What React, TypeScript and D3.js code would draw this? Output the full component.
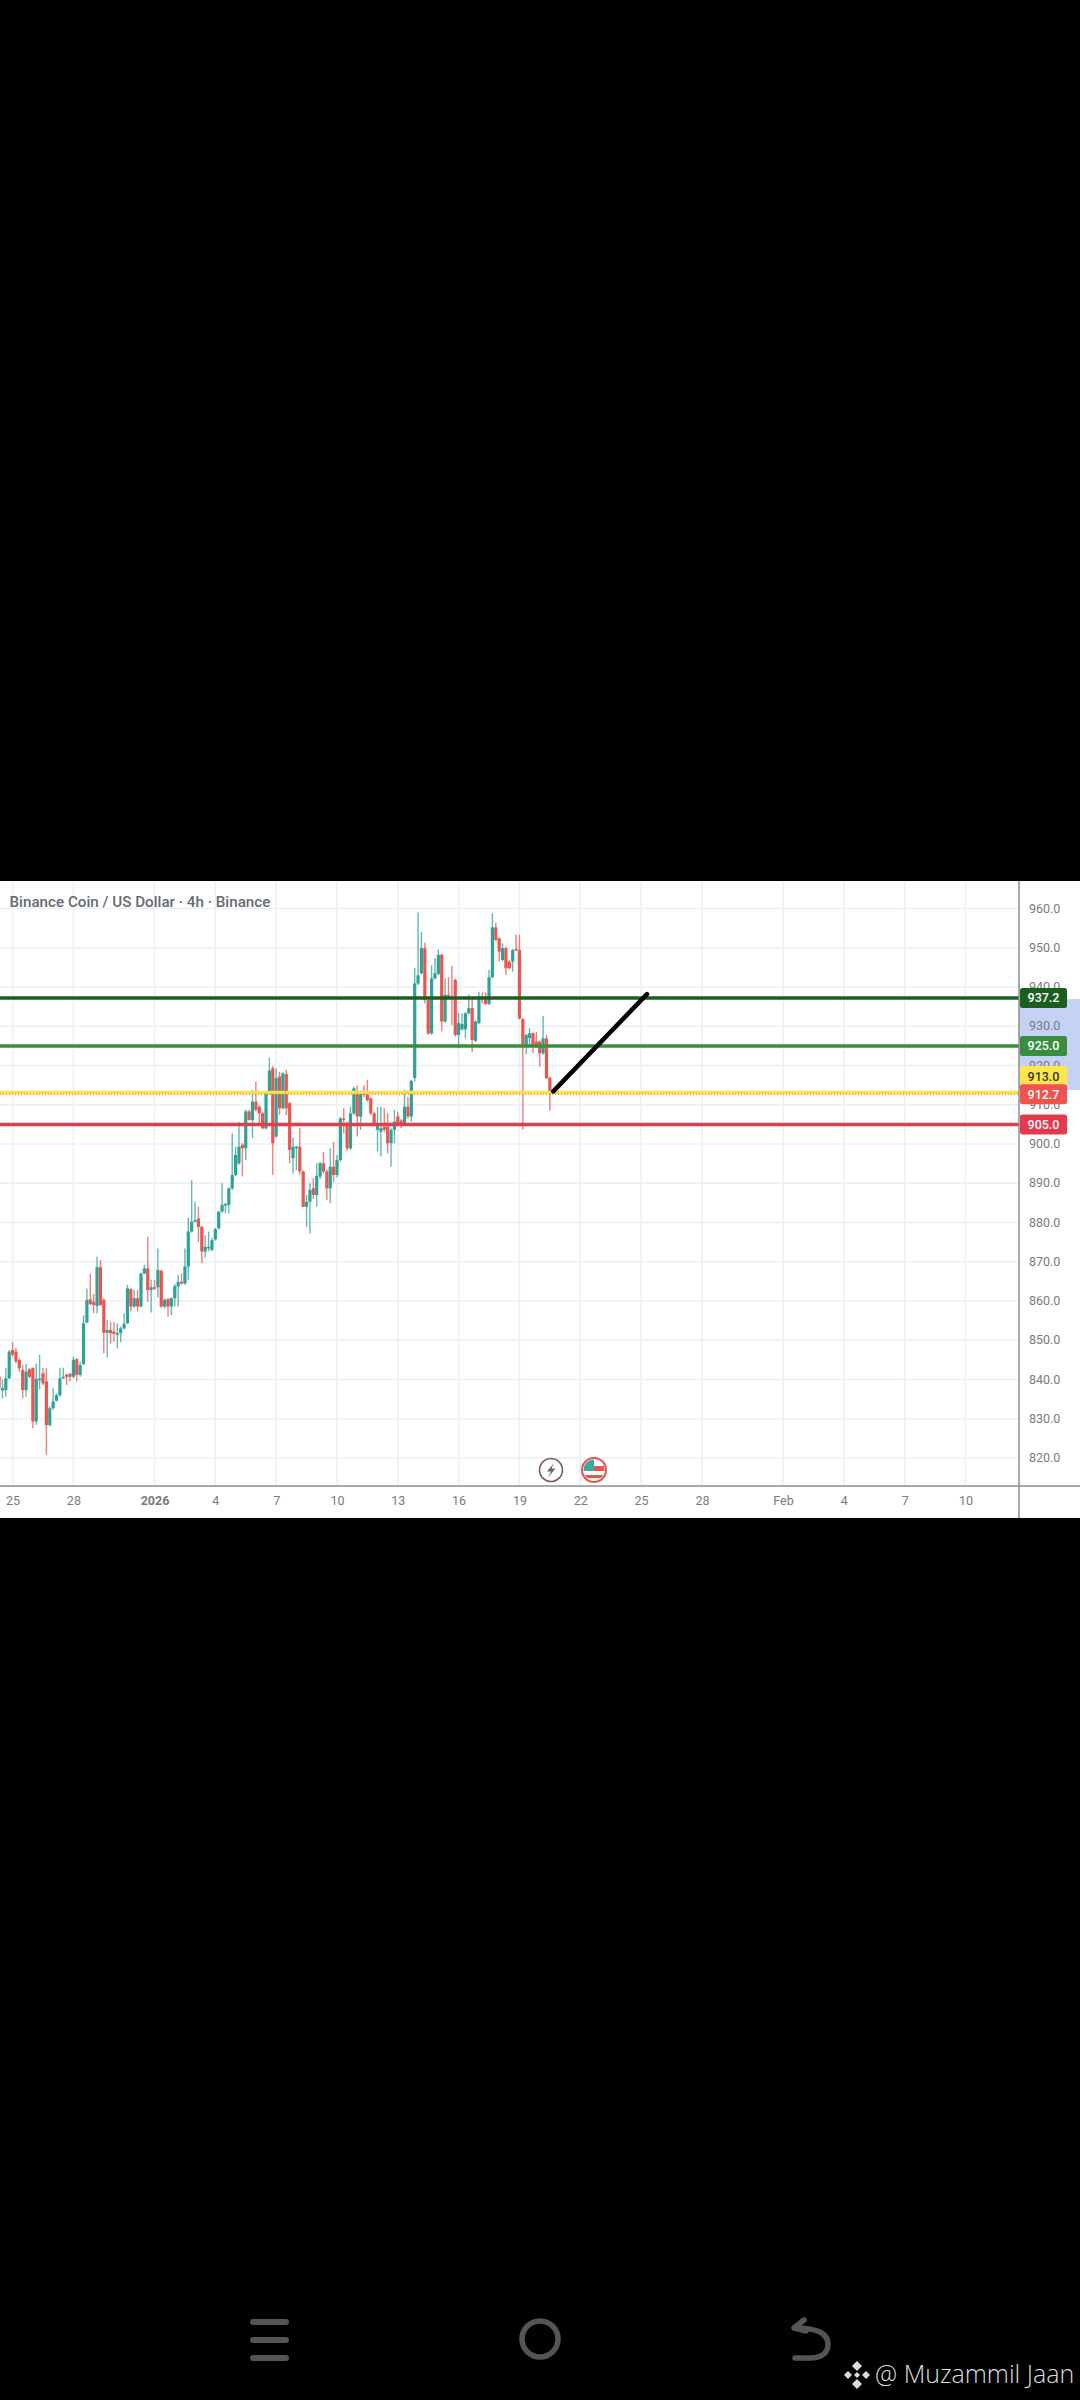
import { useEffect, useRef } from "react";
import * as d3 from "d3";

const title = "Binance Coin / US Dollar · 4h · Binance";

// 4h candles, first one at this time
const firstCandle = Date.UTC(2025, 11, 24, 8);
const fourHours = 4 * 3600 * 1000;

const opens = [
  840.7, 837.2, 837.3, 840.3,
  847.5, 847.1, 845, 842.4, 837.3, 842.6, 842.9, 829.3, 839.9, 841.6,
  839.5, 828.4, 832.7, 834.6, 836, 840.3, 841.2, 841.4, 840.7, 845.2,
  841.2, 843.9, 854.5, 860.4, 859.8, 858.7, 868.6, 860.3, 851.9, 852.6,
  852.2, 851.6, 851.8, 853, 854.3, 863, 858.6, 860.7, 858.6, 867,
  868.3, 862.8, 863.5, 863.5, 867.7, 858.6, 860.5, 858.6, 860.7, 863.7,
  864.9, 864.5, 868.8, 877.7, 880.2, 881, 878.9, 872.6, 873.4, 873,
  875.7, 878.5, 882.8, 884.5, 884.5, 888.7, 892.1, 895.1, 899.8, 898.9,
  908.3, 906.1, 910.8, 909.5, 907.8, 904, 912.9, 919.3, 901.9, 917.2,
  909.1, 917.8, 910.4, 896.4, 899.3, 899.3, 893, 884, 885.3, 888.7,
  887, 891.7, 895.1, 893, 888.7, 894.2, 892.1, 895.9, 906.5, 905.3,
  898.9, 907.8, 913.3, 907, 912.9, 912.5, 911.6, 907.8, 903.6, 903.1,
  904.4, 904.4, 900.2, 903.6, 907, 906, 905.3, 909.5, 907, 916.8,
  940.9, 943.5, 949.9, 936.7, 928.2, 942.2, 943.3, 948.2, 931.2, 938,
  937.5, 941.8, 927.8, 929.2, 929.2, 933.3, 934.6, 926.3, 930.8, 937.5,
  937.1, 935.7, 942.5, 955.2, 952.4, 946.9, 949.9, 946.5, 946.5, 949.7,
  949.4, 931.8, 925.2, 927, 928.2, 926.1, 926.1, 923.1, 926.9, 916.9,
];
const highs = [
  840.9, 839.9, 842.9, 847.5,
  849.6, 848, 845.4, 843.7, 844, 842.9, 843.1, 844.1, 846.3, 842.9,
  842.9, 833.1, 837.8, 836.5, 843, 843, 841.6, 841.8, 845.8, 845.4,
  844.6, 856.4, 863.2, 866.9, 861.8, 871.3, 870.5, 860.7, 855.2, 854.7,
  854.7, 854.3, 853.5, 856.9, 864.1, 863.2, 862.8, 862.8, 867.2, 869.2,
  876.4, 865.4, 865.4, 873.4, 868, 860.7, 860.7, 860.9, 864.3, 866.6,
  867, 873.4, 881.3, 890.8, 885.3, 884, 879.2, 876.8, 877.7, 876,
  878.6, 878.8, 890, 885, 889, 902.7, 899.3, 905.7, 900.2, 908.7,
  908.7, 913.8, 915.9, 909.9, 908.2, 913.2, 922, 919.9, 919.3, 918.4,
  918.3, 918.9, 910.7, 901.5, 899.6, 904, 893.3, 887, 890, 891.3,
  895.1, 895.5, 898, 893.5, 898.9, 900.6, 897.2, 906.9, 909.1, 905.7,
  909.5, 914.6, 915, 913.6, 915, 916.3, 912, 908.2, 909.5, 909.5,
  909.1, 907.8, 904, 908.7, 908.2, 906.4, 913.8, 912, 916.4, 944.8,
  959, 954.1, 951.3, 937, 945.6, 947.3, 949.6, 948.5, 942.2, 942.5,
  945.4, 942.1, 933.3, 933.3, 933.6, 938, 937.1, 931.5, 938.8, 938.6,
  938.6, 944.3, 958.8, 956.4, 952.7, 951.1, 950.2, 946.8, 949.7, 953.3,
  953.3, 932.1, 928.1, 929.5, 928.5, 928.6, 926.4, 932.6, 927.8, 917.2,
];
const lows = [
  837.3, 835.2, 835.6, 840.1,
  845.8, 844.1, 842, 835.2, 835.6, 840.3, 827.6, 828.4, 837.5, 838.6,
  820.8, 828, 832.2, 834.4, 835.6, 840.1, 838.6, 839.5, 840.3, 839.5,
  840.7, 843.7, 854.3, 859, 856.9, 856.9, 858.7, 846.7, 845.6, 849.2,
  849.6, 847.9, 849.5, 852.8, 854.2, 857.3, 858.3, 857.3, 858.4, 866.9,
  859.8, 857.1, 862.8, 860.9, 858.3, 858.1, 856, 856.4, 858.6, 858.6,
  864.1, 864.1, 865.4, 877.4, 880, 875.1, 869.6, 871.1, 872.6, 872.7,
  875.4, 878.2, 882.5, 882.3, 882.3, 888.3, 891.8, 894.7, 891.7, 895.9,
  906, 901.5, 908.3, 905.3, 903.7, 903.7, 912.6, 892.1, 901.6, 907.4,
  908.8, 907.4, 895.1, 892.5, 893.4, 892.2, 884, 878.9, 877.2, 886,
  884, 891, 892.5, 885.7, 884.9, 890.4, 891.5, 895.5, 902.7, 898.2,
  898.5, 907.4, 901.9, 903.6, 912, 910.8, 907.4, 904.8, 898.1, 896.8,
  903, 897.6, 894.2, 900.2, 904.8, 904, 905, 906.5, 905.7, 915.9,
  940.5, 943.2, 935.8, 927.8, 927.8, 941.9, 943, 928.7, 930.9, 937.2,
  930.3, 927.4, 924.4, 928.9, 926.9, 933, 923.4, 926, 930.5, 935.8,
  935.4, 935.4, 942.2, 951.7, 946.5, 946.5, 943.1, 944.5, 943.9, 949.1,
  931.7, 903.6, 922.9, 925.2, 923.1, 924.5, 919.7, 922.7, 916.5, 908.5,
];
const closes = [
  837.8, 837.8, 840.3, 847.1,
  846.3, 844.6, 842.9, 837.3, 842, 840.7, 829.3, 840.2, 840.2, 839,
  828.4, 832.7, 834.4, 836, 840.3, 840.7, 840.7, 840.7, 845, 841.2,
  843.7, 854.3, 860.3, 859.2, 859, 868.6, 859, 851.9, 852.6, 851.8,
  851.6, 851.8, 853, 854.2, 863.2, 858.6, 860.7, 858.6, 867, 868.3,
  862.8, 863.5, 863.2, 867.9, 858.6, 860.3, 858.6, 860.7, 863.8, 864.9,
  864.5, 868.8, 877.7, 880.2, 880.6, 878.9, 872.6, 873.8, 873.8, 875.5,
  878.3, 882.8, 884.5, 884.7, 888.7, 892.1, 897.2, 899.3, 898.9, 908.3,
  906.1, 910.8, 908.7, 907.8, 904, 912.9, 918.7, 900.2, 916.8, 909.1,
  918, 909.1, 898.5, 899.3, 899.3, 893, 884, 885.3, 888.3, 887,
  891.9, 895.1, 893, 888.7, 894.2, 892.1, 895.9, 906.5, 906.1, 898.9,
  907.8, 914.2, 907, 913.3, 912.5, 911.2, 907.8, 905.3, 904.8, 904,
  903.6, 900.2, 903.6, 905.7, 905.3, 905, 909.5, 907, 916.1, 940.9,
  943, 949.9, 936.7, 928.2, 942.2, 943.5, 948.2, 931.2, 938, 937.5,
  937.1, 927.8, 930.8, 930.6, 933.3, 934.6, 926.5, 931.2, 937.5, 937.1,
  935.7, 942.5, 955.2, 952, 949, 949.9, 944.8, 944.8, 949.4, 949.4,
  932, 925.2, 927.8, 928.2, 925.2, 924.8, 923.1, 926.9, 916.8, 912.7,
];

const priceTicks = [960, 950, 940, 930, 920, 910, 900, 890, 880, 870, 860, 850, 840, 830, 820];

const timeTicks = [
  Date.UTC(2025, 11, 25), Date.UTC(2025, 11, 28), Date.UTC(2026, 0, 1), Date.UTC(2026, 0, 4),
  Date.UTC(2026, 0, 7), Date.UTC(2026, 0, 10), Date.UTC(2026, 0, 13), Date.UTC(2026, 0, 16),
  Date.UTC(2026, 0, 19), Date.UTC(2026, 0, 22), Date.UTC(2026, 0, 25), Date.UTC(2026, 0, 28),
  Date.UTC(2026, 1, 1), Date.UTC(2026, 1, 4), Date.UTC(2026, 1, 7), Date.UTC(2026, 1, 10),
];
const timeLabels = ["25", "28", "2026", "4", "7", "10", "13", "16", "19", "22", "25", "28", "Feb", "4", "7", "10"];

// horizontal levels and the tag on the price scale
const levelPrices = [937.2, 925.0, 905.0];
const levelColors = ["#1b5e20", "#388e3c", "#dd3f50"];
const yellowLevel = 913.0;
const lastPrice = 912.7;

// hand drawn trend line
const trendTimes = [Date.UTC(2026, 0, 20, 16), Date.UTC(2026, 0, 25, 7)];
const trendPrices = [913.4, 938.2];

const TEAL = "#2fa297";
const RED = "#e9544f";
const GRID = "#e9f0f6";
const AXIS_TEXT = "#787b80";
const FONT = "Roboto, sans-serif";

export default function App() {
  const svgRef = useRef<SVGSVGElement>(null);

  useEffect(() => {
    if (!svgRef.current) return;
    const svg = d3.select(svgRef.current);
    svg.selectAll("*").remove();

    const top = 881;
    const bottom = 1518;
    const axisY = 1486;
    const axisX = 1019;

    const xScale = d3
      .scaleUtc()
      .domain([Date.UTC(2026, 0, 1), Date.UTC(2026, 1, 10)])
      .range([154.5, 965.5]);
    const yScale = d3.scaleLinear().domain([960, 820]).range([908.5, 1458]);

    svg.append("rect").attr("width", 1080).attr("height", 2400).attr("fill", "#000");
    svg
      .append("rect")
      .attr("y", top)
      .attr("width", 1080)
      .attr("height", bottom - top)
      .attr("fill", "#fff");

    const defs = svg.append("defs");
    defs
      .append("filter")
      .attr("id", "soft")
      .attr("x", "-5%")
      .attr("y", "-5%")
      .attr("width", "110%")
      .attr("height", "110%")
      .append("feGaussianBlur")
      .attr("stdDeviation", 0.6);
    defs
      .append("clipPath")
      .attr("id", "plot")
      .append("rect")
      .attr("y", top)
      .attr("width", axisX)
      .attr("height", axisY - top);
    defs
      .append("clipPath")
      .attr("id", "flag")
      .append("circle")
      .attr("cx", 594)
      .attr("cy", 1470)
      .attr("r", 10.5);

    // Grid
    const grid = svg.append("g").attr("stroke", GRID).attr("stroke-width", 1.5);
    priceTicks.forEach((p) => {
      grid
        .append("line")
        .attr("x1", 0)
        .attr("x2", axisX)
        .attr("y1", yScale(p))
        .attr("y2", yScale(p));
    });
    timeTicks.forEach((t) => {
      grid
        .append("line")
        .attr("x1", xScale(t))
        .attr("x2", xScale(t))
        .attr("y1", top)
        .attr("y2", axisY);
    });

    // Candles
    const candles = svg
      .append("g")
      .attr("clip-path", "url(#plot)")
      .append("g")
      .attr("filter", "url(#soft)");
    opens.forEach((open, i) => {
      const close = closes[i];
      const x = xScale(firstCandle + i * fourHours);
      const color = close >= open ? TEAL : RED;
      candles
        .append("line")
        .attr("x1", x)
        .attr("x2", x)
        .attr("y1", yScale(highs[i]))
        .attr("y2", yScale(lows[i]))
        .attr("stroke", color)
        .attr("stroke-opacity", 0.75)
        .attr("stroke-width", 1.4);
      candles
        .append("rect")
        .attr("x", x - 1.6)
        .attr("width", 3.2)
        .attr("y", yScale(Math.max(open, close)))
        .attr("height", Math.max(1.5, Math.abs(yScale(open) - yScale(close))))
        .attr("fill", color);
    });

    // Levels
    levelPrices.forEach((p, i) => {
      svg
        .append("line")
        .attr("x1", 0)
        .attr("x2", axisX)
        .attr("y1", yScale(p))
        .attr("y2", yScale(p))
        .attr("stroke", levelColors[i])
        .attr("stroke-width", 3.5);
    });
    svg
      .append("line")
      .attr("x1", 0)
      .attr("x2", axisX)
      .attr("y1", yScale(yellowLevel) - 0.5)
      .attr("y2", yScale(yellowLevel) - 0.5)
      .attr("stroke", "#fbe04a")
      .attr("stroke-width", 3.5);
    svg
      .append("line")
      .attr("x1", 0)
      .attr("x2", axisX)
      .attr("y1", yScale(lastPrice))
      .attr("y2", yScale(lastPrice))
      .attr("stroke", "#b9703a")
      .attr("stroke-width", 1)
      .attr("stroke-dasharray", "1,2");

    // Trend line
    svg
      .append("line")
      .attr("x1", xScale(trendTimes[0]))
      .attr("y1", yScale(trendPrices[0]))
      .attr("x2", xScale(trendTimes[1]))
      .attr("y2", yScale(trendPrices[1]))
      .attr("stroke", "#000")
      .attr("stroke-width", 4.5)
      .attr("stroke-linecap", "round");

    // Title
    svg
      .append("text")
      .attr("x", 9.5)
      .attr("y", 907)
      .attr("font-family", FONT)
      .attr("font-size", 15.2)
      .attr("font-weight", 500)
      .attr("fill", "#666a70")
      .text(title);

    // Selection band behind the price scale
    svg
      .append("rect")
      .attr("x", axisX)
      .attr("y", 999)
      .attr("width", 1080 - axisX)
      .attr("height", 91)
      .attr("fill", "#c6d1f6");

    // Axes
    const yAxis = d3
      .axisRight(yScale)
      .tickValues(priceTicks)
      .tickSize(0)
      .tickPadding(10)
      .tickFormat((d) => d3.format(".1f")(d as number));
    const yG = svg.append("g").attr("transform", `translate(${axisX},-0.5)`).call(yAxis);
    yG.select(".domain").remove();
    yG.selectAll("text")
      .attr("font-family", FONT)
      .attr("font-size", 12.5)
      .attr("fill", AXIS_TEXT);

    const xAxis = d3
      .axisBottom(xScale)
      .tickValues(timeTicks.map((t) => new Date(t)))
      .tickSize(0)
      .tickPadding(10)
      .tickFormat((_, i) => timeLabels[i]);
    const xG = svg.append("g").attr("transform", `translate(0,${axisY})`).call(xAxis);
    xG.select(".domain").remove();
    xG.selectAll("text")
      .attr("font-family", FONT)
      .attr("font-size", 12.5)
      .attr("fill", AXIS_TEXT)
      .attr("font-weight", (_, i) => (timeLabels[i] === "2026" ? 700 : 400));

    svg
      .append("line")
      .attr("x1", 0)
      .attr("x2", 1080)
      .attr("y1", axisY)
      .attr("y2", axisY)
      .attr("stroke", "#8a8d91")
      .attr("stroke-width", 1.5);
    svg
      .append("line")
      .attr("x1", axisX)
      .attr("x2", axisX)
      .attr("y1", top)
      .attr("y2", bottom)
      .attr("stroke", "#8a8d91")
      .attr("stroke-width", 1.5);

    // Price tags, some are pushed away from their level so they do not overlap
    const tags = [
      { label: "937.2", y: yScale(937.2), fill: "#1b5e20", text: "#fff" },
      { label: "925.0", y: yScale(925), fill: "#388e3c", text: "#fff" },
      { label: "913.0", y: 1076, fill: "#ffe64a", text: "#333" },
      { label: "912.7", y: yScale(lastPrice), fill: "#ef5350", text: "#fff" },
      { label: "905.0", y: yScale(905), fill: "#e5394e", text: "#fff" },
    ];
    tags.forEach((t) => {
      svg
        .append("rect")
        .attr("x", axisX + 1)
        .attr("y", t.y - 10)
        .attr("width", 47)
        .attr("height", 20)
        .attr("rx", 2.5)
        .attr("fill", t.fill);
      svg
        .append("text")
        .attr("x", axisX + 24.5)
        .attr("y", t.y + 4.5)
        .attr("text-anchor", "middle")
        .attr("font-family", FONT)
        .attr("font-size", 12.5)
        .attr("font-weight", 500)
        .attr("fill", t.text)
        .text(t.label);
    });

    // Event markers near the axis
    svg
      .append("circle")
      .attr("cx", 551)
      .attr("cy", 1470)
      .attr("r", 11.5)
      .attr("fill", "#fff")
      .attr("stroke", "#7d5c5c")
      .attr("stroke-width", 1.6);
    svg
      .append("path")
      .attr("d", "M554 1463 L547 1471.5 L551 1471.5 L548 1477.5 L555.5 1468.5 L551.5 1468.5 Z")
      .attr("fill", "#7d5c5c");
    svg
      .append("circle")
      .attr("cx", 594)
      .attr("cy", 1470)
      .attr("r", 12)
      .attr("fill", "#fff")
      .attr("stroke", "#e8504f")
      .attr("stroke-width", 2);
    const flag = svg.append("g").attr("clip-path", "url(#flag)");
    flag.append("rect").attr("x", 583).attr("y", 1459).attr("width", 11).attr("height", 12).attr("fill", "#3ba99c");
    flag.append("rect").attr("x", 594).attr("y", 1466).attr("width", 11).attr("height", 5).attr("fill", RED);
    flag.append("rect").attr("x", 583).attr("y", 1475).attr("width", 22).attr("height", 3).attr("fill", RED);

    // Phone navigation bar
    const NAV = "#555";
    [2322, 2340, 2358].forEach((y) => {
      svg
        .append("line")
        .attr("x1", 253)
        .attr("x2", 286)
        .attr("y1", y)
        .attr("y2", y)
        .attr("stroke", NAV)
        .attr("stroke-width", 6)
        .attr("stroke-linecap", "round");
    });
    svg
      .append("circle")
      .attr("cx", 540)
      .attr("cy", 2339)
      .attr("r", 18)
      .attr("fill", "none")
      .attr("stroke", NAV)
      .attr("stroke-width", 5.5);
    svg
      .append("path")
      .attr("d", "M804 2320 L794 2328 L806 2331 M795 2328 C818 2328 828 2334 828 2344 C828 2354 820 2358 810 2358 L795 2358")
      .attr("fill", "none")
      .attr("stroke", NAV)
      .attr("stroke-width", 5.5)
      .attr("stroke-linecap", "round")
      .attr("stroke-linejoin", "round");

    // Watermark
    const logo = svg.append("g").attr("fill", "#ddd");
    [
      [857, 2366, 5],
      [857, 2384, 5],
      [848, 2375, 4],
      [866, 2375, 4],
      [857, 2375, 3],
    ].forEach(([cx, cy, r]) => {
      logo
        .append("path")
        .attr("d", `M${cx} ${cy - r} L${cx + r} ${cy} L${cx} ${cy + r} L${cx - r} ${cy} Z`);
    });
    svg
      .append("text")
      .attr("x", 875)
      .attr("y", 2383)
      .attr("font-family", "'Open Sans', sans-serif")
      .attr("font-size", 25)
      .attr("font-weight", 300)
      .attr("fill", "#ddd")
      .text("@ Muzammil Jaan");
  }, []);

  return (
    <svg
      ref={svgRef}
      width={1080}
      height={2400}
      style={{ position: "absolute", left: 0, top: 0 }}
    />
  );
}
